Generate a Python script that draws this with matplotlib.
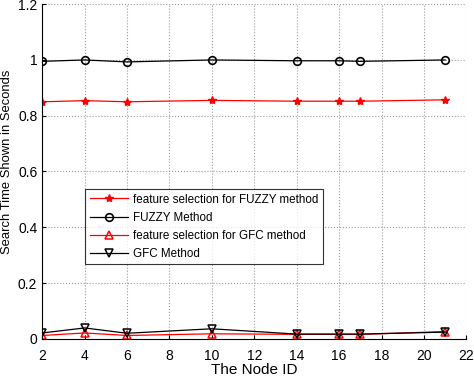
import matplotlib.pyplot as plt
import numpy as np

plt.rcParams['font.family'] = ['Liberation Sans', 'DejaVu Sans']

# Node IDs and search times (s)
node_id = [2, 4, 6, 10, 14, 16, 17, 21]
fs_fuzzy = [0.850, 0.854, 0.850, 0.855, 0.852, 0.852, 0.852, 0.857]
fuzzy = [0.995, 1.000, 0.993, 1.000, 0.997, 0.997, 0.995, 1.000]
fs_gfc = [0.012, 0.021, 0.012, 0.018, 0.016, 0.016, 0.016, 0.026]
gfc = [0.021, 0.039, 0.020, 0.036, 0.017, 0.017, 0.017, 0.024]

fig = plt.figure(figsize=(4.74, 3.79), dpi=100)
ax = fig.add_axes([0.089, 0.106, 0.895, 0.883])

ax.plot(node_id, fs_fuzzy, color='red', lw=0.9, marker='*', markersize=6,
        markerfacecolor='red', markeredgecolor='red', label='feature selection for FUZZY method')
ax.plot(node_id, fuzzy, color='black', lw=0.9, marker='o', markersize=5.5,
        markerfacecolor='none', markeredgewidth=1.2, label='FUZZY Method')
ax.plot(node_id, fs_gfc, color='red', lw=0.9, marker='^', markersize=6,
        markerfacecolor='none', markeredgewidth=1.1, label='feature selection for GFC method')
ax.plot(node_id, gfc, color='black', lw=0.9, marker='v', markersize=6,
        markerfacecolor='none', markeredgewidth=1.1, label='GFC Method')

ax.set_xlim(2, 22)
ax.set_ylim(0, 1.2)
ax.set_xticks(np.arange(2, 23, 2))
ax.set_yticks([0, 0.2, 0.4, 0.6, 0.8, 1, 1.2])
ax.set_yticklabels(['0', '0.2', '0.4', '0.6', '0.8', '1', '1.2'])
ax.tick_params(labelsize=10, direction='in', length=3, width=0.8)
ax.tick_params(axis='x', pad=7)
ax.tick_params(axis='y', pad=3.5)
ax.grid(True, linestyle=':', color='#999999', linewidth=0.8)
ax.spines['top'].set_visible(False)
ax.spines['right'].set_visible(False)

ax.set_xlabel('The Node ID', fontsize=11, labelpad=0.5)
ax.set_ylabel('Search Time Shown in Seconds', fontsize=9.4)
ax.yaxis.set_label_coords(-0.068, 0.528)

leg = ax.legend(loc='upper left', bbox_to_anchor=(0.101, 0.448), borderaxespad=0,
                fontsize=8.4, handlelength=3.3, frameon=True, fancybox=False,
                edgecolor='black', borderpad=0.4, labelspacing=0.52, handletextpad=0.4)
leg.get_frame().set_linewidth(0.8)

fig.savefig('out.png', dpi=100)
